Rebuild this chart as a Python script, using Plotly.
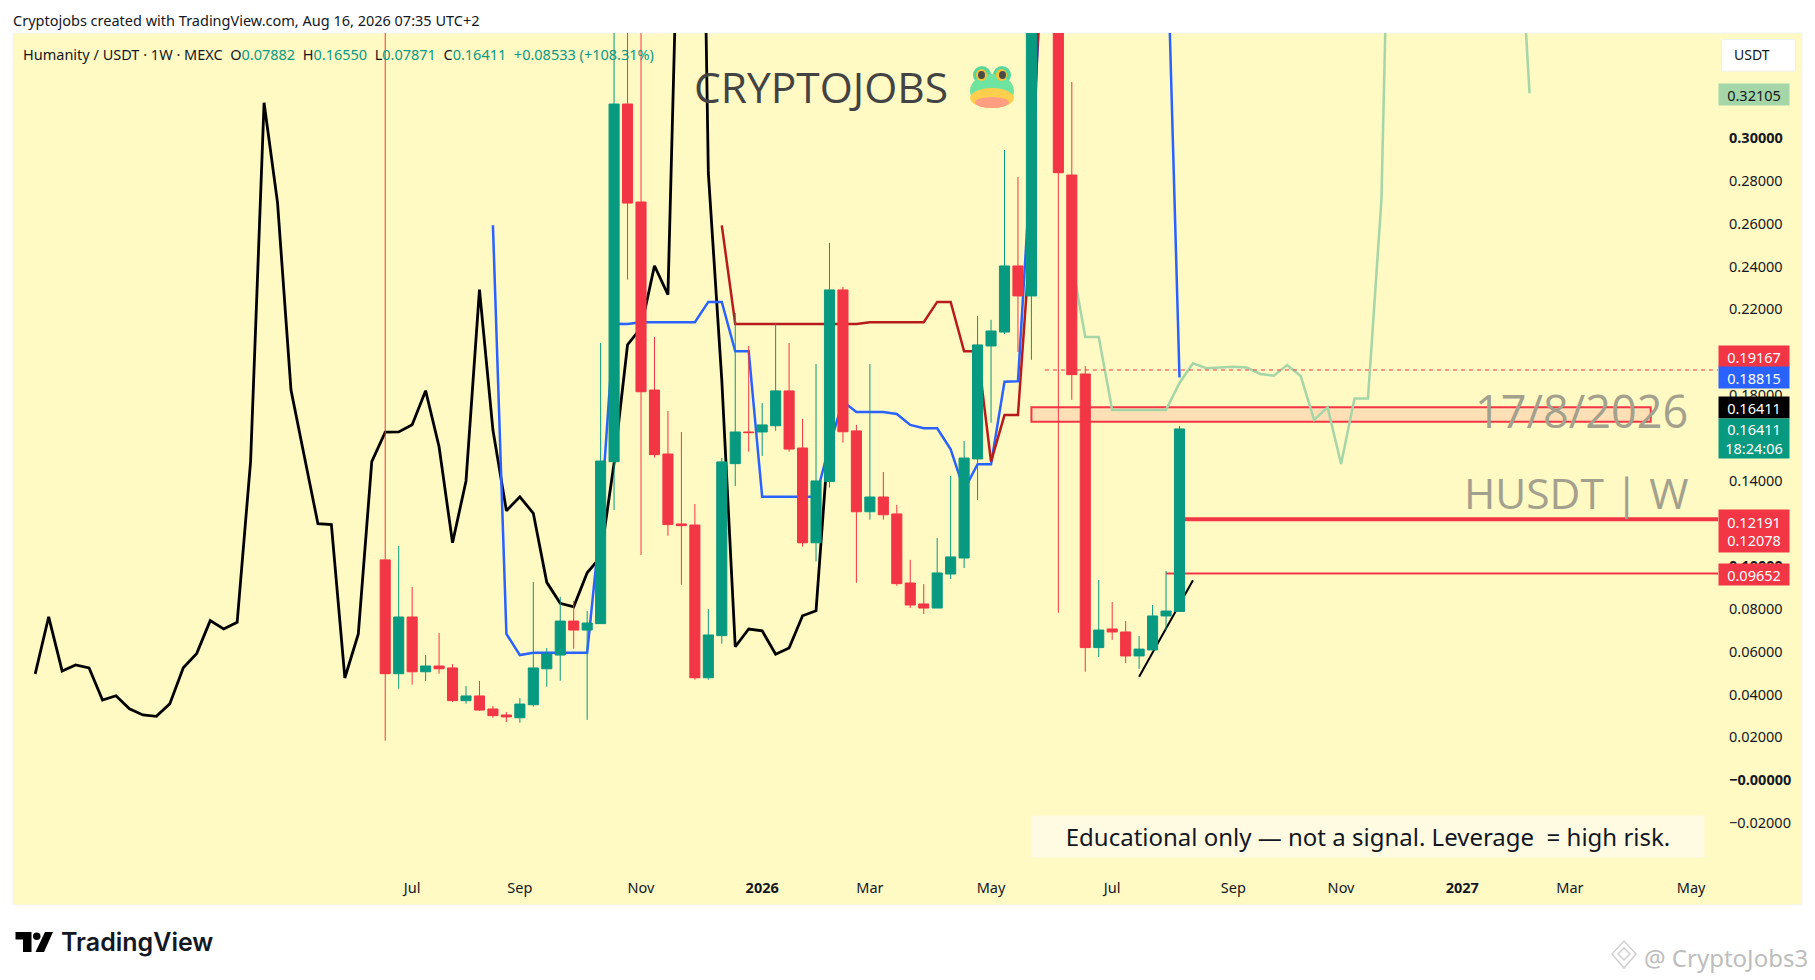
import pandas as pd
import plotly.graph_objects as go

# weekly candles, first one is the week of 2025-06-23
first_week = pd.Timestamp("2025-06-23")

opens = [0.1029, 0.0497, 0.0762, 0.0506, 0.0533, 0.0524, 0.0371, 0.0393, 0.0332, 0.0304,
         0.0291, 0.0352, 0.0520, 0.0584, 0.0743, 0.0701, 0.0731, 0.1488, 0.3160, 0.2702,
         0.1823, 0.1524, 0.1197, 0.1192, 0.0478, 0.0675, 0.1479, 0.1627, 0.1627, 0.1656,
         0.1819, 0.1552, 0.1109, 0.1395, 0.2291, 0.1632, 0.1254, 0.1323, 0.1244, 0.0921,
         0.0823, 0.0804, 0.0963, 0.1038, 0.1501, 0.2029, 0.2094, 0.2403, 0.2263, 0.46,
         0.42, 0.2828, 0.1898, 0.0619, 0.0706, 0.0692, 0.0580, 0.0608, 0.0767, 0.07882]
highs = [0.42, 0.1094, 0.0902, 0.0584, 0.0687, 0.0542, 0.0439, 0.0463, 0.0346, 0.0318,
         0.0383, 0.0926, 0.0617, 0.0856, 0.0837, 0.0790, 0.2043, 0.40, 0.38, 0.37,
         0.2071, 0.1725, 0.1627, 0.1290, 0.0799, 0.1505, 0.2183, 0.2029, 0.1762, 0.2136,
         0.2043, 0.1688, 0.1945, 0.2511, 0.2305, 0.1660, 0.1945, 0.1440, 0.1286, 0.1029,
         0.0916, 0.1131, 0.1421, 0.1585, 0.2169, 0.2151, 0.2945, 0.2819, 0.46, 0.52,
         0.50, 0.3263, 0.1935, 0.0935, 0.0832, 0.0743, 0.0673, 0.0818, 0.0977, 0.16550]
lows = [0.0184, 0.0427, 0.0446, 0.0463, 0.0497, 0.0366, 0.0357, 0.0323, 0.0291, 0.0271,
        0.0268, 0.0343, 0.0436, 0.0464, 0.0614, 0.0281, 0.0731, 0.1262, 0.2339, 0.1052,
        0.1507, 0.1142, 0.0913, 0.0469, 0.0469, 0.0637, 0.1374, 0.1535, 0.1515, 0.1633,
        0.1535, 0.1091, 0.1021, 0.1367, 0.1577, 0.0922, 0.1217, 0.1217, 0.0908, 0.0804,
        0.0776, 0.0804, 0.0940, 0.0991, 0.1309, 0.1670, 0.2085, 0.2001, 0.1964, 0.40,
        0.0782, 0.1777, 0.0506, 0.0575, 0.0655, 0.0547, 0.0519, 0.0608, 0.0701, 0.07871]
closes = [0.0497, 0.0762, 0.0506, 0.0533, 0.0520, 0.0371, 0.0393, 0.0327, 0.0301, 0.0295,
          0.0355, 0.0524, 0.0589, 0.0743, 0.0701, 0.0734, 0.1491, 0.3160, 0.2697, 0.1815,
          0.1521, 0.1194, 0.1189, 0.0478, 0.0678, 0.1487, 0.1627, 0.1624, 0.1660, 0.1819,
          0.1547, 0.1109, 0.1398, 0.2291, 0.1628, 0.1254, 0.1323, 0.1240, 0.0918, 0.0818,
          0.0804, 0.0968, 0.1043, 0.1505, 0.2034, 0.2099, 0.2403, 0.2263, 0.44, 0.42,
          0.2839, 0.1895, 0.0619, 0.0701, 0.0692, 0.0580, 0.0612, 0.0767, 0.0790, 0.16411]

# black overlay, starts 26 weeks before the first candle
black_start = -26
black_line = [0.0496, 0.0763, 0.0510, 0.0538, 0.0524, 0.0374, 0.0394, 0.0333, 0.0304, 0.0298,
              0.0357, 0.0525, 0.0592, 0.0745, 0.0706, 0.0737, 0.1491, 0.3166, 0.2699, 0.1823,
              0.1510, 0.1198, 0.1194, 0.0477, 0.0683, 0.1488, 0.1626, 0.1627, 0.1661, 0.1820,
              0.1558, 0.1109, 0.1398, 0.2292, 0.1636, 0.1259, 0.1324, 0.1247, 0.0924, 0.0826,
              0.0810, 0.0969, 0.1043, 0.1482, 0.2035, 0.2113, 0.2404, 0.2269, 0.47, 0.68,
              0.2838, 0.1870, 0.0623, 0.0706, 0.0697, 0.0588, 0.0617, 0.0768, 0.0791, 0.1655]

blue_start = 8
blue_line = [0.2593, 0.0683, 0.0584, 0.0595, 0.0595, 0.0595, 0.0595, 0.0595, 0.1215, 0.2133,
             0.2132, 0.2140, 0.2140, 0.2140, 0.2140, 0.2140, 0.2235, 0.2235, 0.2004, 0.2004,
             0.1324, 0.1324, 0.1324, 0.1324, 0.1324, 0.1566, 0.1769, 0.1720, 0.1720, 0.1720,
             0.1711, 0.1660, 0.1644, 0.1644, 0.1546, 0.1356, 0.1476, 0.1476, 0.1862, 0.1864,
             0.2912, 0.40, 0.41, 0.41, 0.41, 0.41, 0.41, 0.41, 0.41, 0.41, 0.4124, 0.18815]

red_start = 25
red_line = [0.2593, 0.2132, 0.2132, 0.2132, 0.2132, 0.2132, 0.2132, 0.2132, 0.2132, 0.2132,
            0.2132, 0.2140, 0.2140, 0.2140, 0.2140, 0.2140, 0.2235, 0.2235, 0.2004, 0.2004,
            0.1488, 0.1706, 0.1706, 0.2604, 0.447]

# projection, runs past the last candle
green_start = 51
green_line = [0.2422, 0.2071, 0.2071, 0.1730, 0.1730, 0.1730, 0.1730, 0.1730, 0.1856, 0.1948,
              0.1925, 0.1929, 0.1932, 0.1928, 0.1898, 0.1890, 0.1940, 0.1889, 0.1683, 0.1742,
              0.1477, 0.1784, 0.1784, 0.2712, 0.547, 0.60, 0.70, 0.75, 0.72, 0.68,
              0.62, 0.55, 0.48, 0.4296, 0.32105]

trend_weeks = [56, 60]
trend_prices = [0.0483, 0.0934]

level_thick = 0.12191
level_thin = 0.09652
level_dash = 0.19167
zone_weeks = [48, 94]
zone_prices = [0.1675, 0.1742]

y_ticks = [-0.02, 0, 0.02, 0.04, 0.06, 0.08, 0.10, 0.12, 0.14, 0.16, 0.18, 0.20, 0.22, 0.24, 0.26, 0.28, 0.30]
y_labels = ["−0.02000", "<b>−0.00000</b>", "0.02000", "0.04000", "0.06000", "0.08000",
            "<b>0.10000</b>", "0.12000", "0.14000", "0.16000", "0.18000", "0.20000", "0.22000", "0.24000",
            "0.26000", "0.28000", "<b>0.30000</b>"]
x_tick_dates = ["2025-07-07", "2025-09-01", "2025-11-03", "2026-01-05", "2026-03-02", "2026-05-04",
                "2026-07-06", "2026-09-07", "2026-11-02", "2027-01-04", "2027-03-01", "2027-05-03"]
x_labels = ["Jul", "Sep", "Nov", "<b>2026</b>", "Mar", "May", "Jul", "Sep", "Nov", "<b>2027</b>", "Mar", "May"]

PANEL = "#FFF9C4"
RED = "#F23645"
GREEN = "#089981"
TEXT = "#131722"
FONT = "Noto Sans"

# plot area in page pixels, the page body adds an 8px margin round the figure
L, R, T, B = 13, 1718, 33, 875
PAGE = 8
FIG_W, FIG_H = 1815 - PAGE, 980 - PAGE


def week(i):
    return first_week + pd.Timedelta(days=7 * i)


def weeks(start, values):
    return [week(start + i) for i in range(len(values))]


def px(x):
    return (x - L) / (R - L)


def py(y):
    return 1 - (y - T) / (B - T)


x_range = [week(-27.65), week(99.0)]
y_range = [-0.0444, 0.3492]

fig = go.Figure()

for name, start, vals, col, w in [
    ("black", black_start, black_line, "#000000", 2.8),
    ("green", green_start, green_line, "#A5D6A7", 2.5),
    ("blue", blue_start, blue_line, "#2962FF", 2.5),
    ("red", red_start, red_line, "#B71C1C", 2.5),
]:
    fig.add_trace(go.Scatter(x=weeks(start, vals), y=vals, mode="lines", name=name,
                             line=dict(color=col, width=w)))

fig.add_trace(go.Scatter(x=[week(w) for w in trend_weeks], y=trend_prices, mode="lines",
                         line=dict(color="#000000", width=2)))
fig.add_trace(go.Scatter(x=[week(59), x_range[1]], y=[level_thick, level_thick], mode="lines",
                         line=dict(color=RED, width=4)))
fig.add_trace(go.Scatter(x=[week(58), x_range[1]], y=[level_thin, level_thin], mode="lines",
                         line=dict(color=RED, width=2)))
fig.add_trace(go.Scatter(x=[week(49), x_range[1]], y=[level_dash, level_dash], mode="lines",
                         line=dict(color=RED, width=1, dash="4px,4px")))

# candles on an overlay pair of axes so they sit over the lines
fig.add_trace(go.Candlestick(
    x=weeks(0, opens), open=opens, high=highs, low=lows, close=closes,
    xaxis="x2", yaxis="y2", whiskerwidth=0,
    increasing=dict(line=dict(color=GREEN, width=1), fillcolor=GREEN),
    decreasing=dict(line=dict(color=RED, width=1), fillcolor=RED),
))

shapes = [
    dict(type="rect", xref="paper", yref="paper", x0=px(13), x1=px(1802), y0=py(33), y1=py(905),
         fillcolor=PANEL, line=dict(color="#F0F3FA", width=1), layer="below"),
    dict(type="rect", xref="x", yref="y", x0=week(zone_weeks[0]), x1=week(zone_weeks[1]),
         y0=zone_prices[0], y1=zone_prices[1],
         fillcolor="#FFDFB5", line=dict(color=RED, width=2), layer="below"),
]


def circle(x0, y0, x1, y1, col):
    return dict(type="circle", xref="paper", yref="paper", x0=px(x0), x1=px(x1), y0=py(y0), y1=py(y1),
                fillcolor=col, line=dict(width=0))


def poly(points, col, width=0, fill=True):
    d = "M " + " L ".join(f"{px(x):.5f} {py(y):.5f}" for x, y in points) + " Z"
    return dict(type="path", xref="paper", yref="paper", path=d,
                fillcolor=col if fill else "rgba(0,0,0,0)", line=dict(color=col, width=width))


# frog
shapes += [
    circle(973, 66, 991, 84, "#55D79C"), circle(993, 66, 1011, 84, "#55D79C"),
    circle(970, 74, 1014, 108, "#6FE3A0"),
    circle(970, 88, 1014, 108, "#FFCF4D"),
    circle(975, 97, 1009, 108, "#FF9E80"),
    circle(976, 69, 987, 81, "#F5C33B"), circle(996, 69, 1007, 81, "#F5C33B"),
    circle(978, 71, 985, 79, "#4A4A48"), circle(999, 71, 1006, 79, "#4A4A48"),
]
# tradingview logo
shapes += [
    poly([(15.5, 932), (31.5, 932), (31.5, 952), (23, 952), (23, 939.5), (15.5, 939.5)], "#000000"),
    circle(33, 932.5, 40.5, 940, "#000000"),
    poly([(45, 932), (53, 932), (44, 952), (35.5, 952)], "#000000"),
]
# usdt button and the faint diamond mark
shapes += [
    dict(type="rect", xref="paper", yref="paper", x0=px(1721.5), x1=px(1795.5), y0=py(39.5), y1=py(71),
         fillcolor="#FFFFFF", line=dict(color="#EEF0F3", width=1)),
    poly([(1624, 941), (1636, 954), (1624, 968), (1612, 954)], "#D0D0D0", 1.5, False),
    poly([(1624, 948), (1630, 954), (1624, 960), (1618, 954)], "#D0D0D0", 1.5, False),
]


def note(text, x, y, size, color=TEXT, anchor="left", font=FONT, weight="normal", **kw):
    return dict(text=text, xref="paper", yref="paper", x=px(x), y=py(y), xanchor=anchor, yanchor="middle",
                showarrow=False, font=dict(family=font, size=size, color=color, weight=weight), **kw)


def tag(text, y0, y1, bg, color="#FFFFFF"):
    return dict(text=text, xref="paper", yref="paper", x=px(1718), y=py((y0 + y1) / 2), xanchor="left",
                yanchor="middle", showarrow=False, width=70, height=y1 - y0, align="center", valign="middle",
                bgcolor=bg, borderpad=0, font=dict(family=FONT, size=14.5, color=color))


def val(s):
    return f'<span style="color:{GREEN}">{s}</span>'


gap = "\u00a0\u00a0"
legend_text = ("Humanity / USDT · 1W · MEXC" + gap + "O" + val("0.07882") + gap + "H" + val("0.16550") + gap + "L"
               + val("0.07871") + gap + "C" + val("0.16411") + gap + val("+0.08533 (+108.31%)"))

annotations = [
    note("Cryptojobs created with TradingView.com, Aug 16, 2026 07:35 UTC+2", 11, 20, 14.5),
    note(legend_text, 20.5, 54, 14.5),
    note("CRYPTOJOBS", 692, 86, 42.5, "#434343", font="Open Sans"),
    note("17/8/2026", 1473, 410, 45, "#A3A18D", font="Open Sans"),
    note("HUSDT | W", 1462, 492, 42.5, "#A3A18D", font="Open Sans"),
    note("Educational only — not a signal. Leverage\u00a0 = high risk.", 1368, 836, 24, TEXT, "center",
         width=672, height=41, bgcolor="#FFFBE3", align="center", valign="middle", borderpad=0),
    note("TradingView", 59, 942, 25, TEXT, font="Inter", weight=600),
    note("@ CryptoJobs3", 1642, 957, 24, "#BDBDBD"),
    note("USDT", 1732, 55, 14),
    tag("0.32105", 84, 105, "#A5D6A7", TEXT),
    tag("0.19167", 346.5, 367.5, RED),
    tag("0.18815", 367.5, 388.5, "#2962FF"),
    tag("0.16411", 397, 418, "#000000"),
    tag("0.16411<br>18:24:06", 419, 457.5, GREEN),
    tag("0.12191<br>0.12078", 509.5, 551.5, RED),
    tag("0.09652", 563.5, 584.5, RED),
]

fig.update_layout(
    width=FIG_W, height=FIG_H,
    margin=dict(l=L - PAGE, r=1815 - R, t=T - PAGE, b=980 - B),
    paper_bgcolor="#FFFFFF", plot_bgcolor="rgba(0,0,0,0)",
    showlegend=False, boxgap=0.25, boxgroupgap=0,
    font=dict(family=FONT, size=14.5, color=TEXT),
    xaxis=dict(type="date", range=x_range, tickmode="array", tickvals=x_tick_dates, ticktext=x_labels,
               showgrid=False, zeroline=False, showline=False, ticks="", ticklabelstandoff=2),
    yaxis=dict(side="right", range=y_range, tickmode="array", tickvals=y_ticks, ticktext=y_labels,
               showgrid=False, zeroline=False, showline=False, ticks="", ticklabelstandoff=10),
    xaxis2=dict(type="date", overlaying="x", range=x_range, visible=False, rangeslider=dict(visible=False)),
    yaxis2=dict(overlaying="y", range=y_range, visible=False),
    shapes=shapes, annotations=annotations,
)

fig.write_html("out.html")
